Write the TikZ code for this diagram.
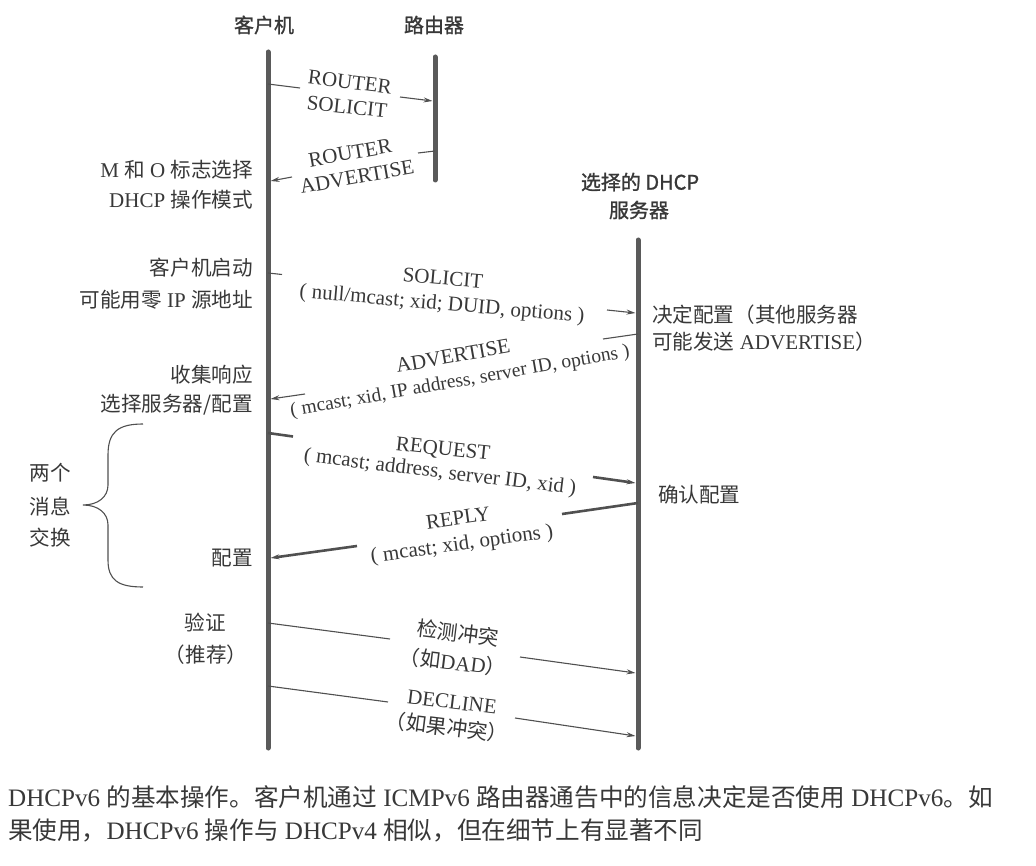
\documentclass[tikz,border=0pt]{standalone}
\usepackage{fontspec}
\setmainfont{Liberation Serif}
\newfontfamily\cjk[Scale=0.98]{Noto Sans CJK SC}
\newfontfamily\cjkb[Scale=0.98,FakeBold=1.2]{Noto Sans CJK SC}
\newcommand\zh[1]{{\cjk #1}}
\usetikzlibrary{arrows.meta}
\definecolor{txt}{HTML}{383838}
\definecolor{lnc}{HTML}{505050}
\definecolor{lfc}{HTML}{5A5A5A}
\begin{document}
\begin{tikzpicture}[x=1pt,y=-1pt,
  lbl/.style={font=\fontsize{21}{24}\selectfont, text=txt, inner sep=0pt},
  lbls/.style={font=\fontsize{19.5}{22}\selectfont, text=txt, inner sep=0pt},
  hdr/.style={font=\cjkb\fontsize{20.4}{24}\selectfont, text=txt, inner sep=0pt},
  captxt/.style={font=\fontsize{25.1}{28}\selectfont, text=txt, inner sep=0pt, anchor=west},
  life/.style={line width=5pt, draw=lfc, line cap=round},
  msg/.style={line width=1.1pt, draw=lnc},
  msgb/.style={line width=2.6pt, draw=lnc},
  tip/.style={-{Stealth[length=9pt,width=5pt]}},
]
\fill[white] (0,0) rectangle (1036,866);
\useasboundingbox (0,0) rectangle (1036,866);

% headers
\node[hdr] (hC) at (264,25) {客户机};
\node[hdr] (hR) at (434,25) {路由器};
\node[hdr] (hS1) at (640,182) {选择的 DHCP};
\node[hdr] (hS2) at (639,210) {服务器};

% lifelines
\coordinate (cT) at (268,52);  \coordinate (cB) at (268,748);
\coordinate (rT) at (435,57);  \coordinate (rB) at (435,180);
\coordinate (sT) at (638,240); \coordinate (sB) at (638,748);
\draw[life] (cT) -- (cB);
\draw[life] (rT) -- (rB);
\draw[life] (sT) -- (sB);

% ROUTER SOLICIT
\coordinate (a1) at (268,84);  \coordinate (a2) at (300,88);
\coordinate (a3) at (400,97);  \coordinate (a4) at (432.5,101);
\draw[msg] (a1) -- (a2);
\draw[msg,tip] (a3) -- (a4);
\node[lbl,rotate=-7] (rs1) at (350,82) {ROUTER};
\node[lbl,rotate=-6] (rs2) at (347,107) {SOLICIT};

% ROUTER ADVERTISE
\coordinate (b1) at (435,151); \coordinate (b2) at (418,153);
\coordinate (b3) at (292,177); \coordinate (b4) at (270.5,181);
\draw[msg] (b1) -- (b2);
\draw[msg,tip] (b3) -- (b4);
\node[lbl,rotate=10] (ra1) at (350,153) {ROUTER};
\node[lbl,rotate=10] (ra2) at (357,177) {ADVERTISE};

\node[lbl,anchor=east] (l1) at (253,170) {M \zh{和} O \zh{标志选择}};
\node[lbl,anchor=east] (l2) at (253,200) {DHCP \zh{操作模式}};

% SOLICIT
\node[lbl,anchor=east] (l3) at (253,268) {\zh{客户机启动}};
\node[lbl,anchor=east] (l4) at (253,300) {\zh{可能用零} IP \zh{源地址}};
\coordinate (s1) at (268,273);  \coordinate (s2) at (282,274.5);
\coordinate (s3) at (607,310);  \coordinate (s4) at (635.5,313);
\draw[msg] (s1) -- (s2);
\draw[msg,tip] (s3) -- (s4);
\node[lbl,rotate=-5] (so1) at (443,278) {SOLICIT};
\node[lbl,rotate=-5] (so2) at (442,305) {( null/mcast; xid; DUID, options )};
\node[lbl,anchor=west] (r1) at (652,315) {\zh{决定配置（其他服务器}};
\node[lbl,anchor=west] (r2) at (652,342) {\zh{可能发送} ADVERTISE\zh{）}};

% ADVERTISE
\coordinate (d1) at (638,334);  \coordinate (d2) at (603,339);
\coordinate (d3) at (305,394);  \coordinate (d4) at (270.5,399);
\draw[msg] (d1) -- (d2);
\draw[msg,tip] (d3) -- (d4);
\node[lbl,rotate=10] (ad1) at (453,356) {ADVERTISE};
\node[lbls,rotate=10] (ad2) at (460,382) {( mcast; xid, IP address, server ID, options )};
\node[lbl,anchor=east] (l5) at (253,375) {\zh{收集响应}};
\node[lbl,anchor=east] (l6) at (253,405) {\zh{选择服务器/配置}};

% brace
\draw[lnc,line width=1.1pt] (143,424) .. controls (118,424) and (108,432) .. (108,455)
  -- (108,485) .. controls (108,497) and (98,505) .. (83,505)
  .. controls (98,505) and (108,513) .. (108,525)
  -- (108,560) .. controls (108,580) and (118,587) .. (143,587);
\node[lbl] (t1) at (50,473) {\zh{两个}};
\node[lbl] (t2) at (50,507) {\zh{消息}};
\node[lbl] (t3) at (50,538) {\zh{交换}};

% REQUEST
\coordinate (q1) at (268,433);  \coordinate (q2) at (293,436.5);
\coordinate (q3) at (593,477);  \coordinate (q4) at (635.5,483);
\draw[msgb] (q1) -- (q2);
\draw[msgb,tip] (q3) -- (q4);
\node[lbl,rotate=-6] (rq1) at (443,450) {REQUEST};
\node[lbl,rotate=-7] (rq2) at (440,473) {( mcast; address, server ID, xid )};
\node[lbl,anchor=west] (r3) at (658,495) {\zh{确认配置}};

% REPLY
\coordinate (p1) at (638,503);  \coordinate (p2) at (562,514);
\coordinate (p3) at (357,546);  \coordinate (p4) at (270.5,558);
\draw[msgb] (p1) -- (p2);
\draw[msgb,tip] (p3) -- (p4);
\node[lbl,rotate=8] (rp1) at (458,518) {REPLY};
\node[lbl,rotate=8] (rp2) at (462,545) {( mcast; xid, options )};
\node[lbl,anchor=east] (l7) at (253,558) {\zh{配置}};

% verify
\node[lbl] (v1) at (205,623) {\zh{验证}};
\node[lbl] (v2) at (206,655) {\zh{（推荐）}};

% DAD
\coordinate (e1) at (268,623);  \coordinate (e2) at (390,639);
\coordinate (e3) at (520,657);  \coordinate (e4) at (635.5,673);
\draw[msg] (e1) -- (e2);
\draw[msg,tip] (e3) -- (e4);
\node[lbl,rotate=-7] (dd1) at (458,633) {\zh{检测冲突}};
\node[lbl,rotate=-7] (dd2) at (453,662) {\zh{（如}DAD\zh{）}};

% DECLINE
\coordinate (f1) at (268,686);  \coordinate (f2) at (388,702);
\coordinate (f3) at (515,718);  \coordinate (f4) at (635.5,736);
\draw[msg] (f1) -- (f2);
\draw[msg,tip] (f3) -- (f4);
\node[lbl,rotate=-7] (dc1) at (452,702) {DECLINE};
\node[lbl,rotate=-7] (dc2) at (447,727) {\zh{（如果冲突）}};

% caption
\node[captxt] (cap1) at (8,797) {DHCPv6 \zh{的基本操作。客户机通过} ICMPv6 \zh{路由器通告中的信息决定是否使用} DHCPv6\zh{。如}};
\node[captxt] (cap2) at (8,830) {\zh{果使用，}DHCPv6 \zh{操作与} DHCPv4 \zh{相似，但在细节上有显著不同}};
\end{tikzpicture}
\end{document}
